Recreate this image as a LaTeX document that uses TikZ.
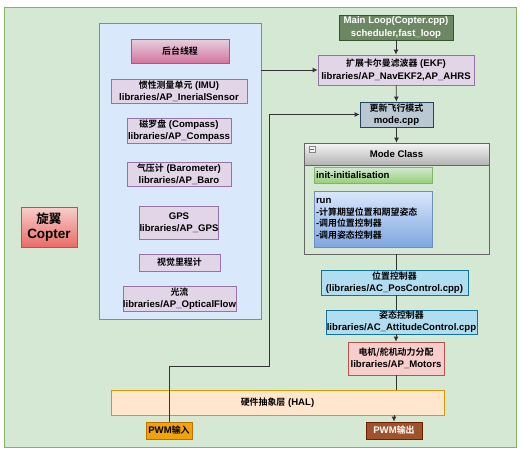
\documentclass[tikz,border=0pt]{standalone}
\usepackage{fontspec}
\setmainfont{Liberation Sans}
\newfontfamily\cjkfont{Noto Sans CJK SC}[Scale=0.93, BoldFont={Noto Sans CJK SC Bold}]
\newcommand{\zh}[1]{{\cjkfont #1}}
\usetikzlibrary{arrows.meta,calc}
\definecolor{bggreen}{HTML}{D5E8D4}
\definecolor{bgstroke}{HTML}{82B366}
\definecolor{panelfill}{HTML}{DAE8FC}
\definecolor{panelstroke}{HTML}{6C8EBF}
\definecolor{purpfill}{HTML}{E1D5E7}
\definecolor{purpstroke}{HTML}{9673A6}
\definecolor{pinktop}{HTML}{E6D0DE}
\definecolor{pinkbot}{HTML}{D5739D}
\definecolor{pinkstroke}{HTML}{996185}
\definecolor{redtop}{HTML}{F8CECC}
\definecolor{redbot}{HTML}{EA6B66}
\definecolor{redstroke}{HTML}{B85450}
\definecolor{darkgreen}{HTML}{6D8764}
\definecolor{darkgreenstroke}{HTML}{3A5431}
\definecolor{grayblue}{HTML}{BAC8D3}
\definecolor{graybluestroke}{HTML}{23445D}
\definecolor{hdrtop}{HTML}{F5F5F5}
\definecolor{hdrbot}{HTML}{B3B3B3}
\definecolor{hdrstroke}{HTML}{666666}
\definecolor{gtop}{HTML}{D5E8D4}
\definecolor{gbot}{HTML}{97D077}
\definecolor{btop}{HTML}{DAE8FC}
\definecolor{bbot}{HTML}{7EA6E0}
\definecolor{cyanfill}{HTML}{B1DDF0}
\definecolor{cyanstroke}{HTML}{10739E}
\definecolor{salmon}{HTML}{F8CECC}
\definecolor{halfill}{HTML}{FFE6CC}
\definecolor{halstroke}{HTML}{D79B00}
\definecolor{orangefill}{HTML}{F0A30A}
\definecolor{orangestroke}{HTML}{BD7000}
\definecolor{brownfill}{HTML}{A0522D}
\definecolor{brownstroke}{HTML}{6D1F00}
\definecolor{linecol}{HTML}{333333}
\begin{document}
\begin{tikzpicture}[x=1pt,y=-1pt,
  font=\fontsize{9.6}{12.2}\selectfont\bfseries,
  box/.style={draw, line width=0.8pt, inner sep=0pt, align=center, text=black},
  sensor/.style={box, fill=purpfill, draw=purpstroke},
  conn/.style={draw=linecol, line width=0.8pt},
  arr/.style={conn, -{Latex[length=5pt,width=5pt]}}
]
\useasboundingbox (0,0) rectangle (523,451);
\fill[white] (0,0) rectangle (523,451);
% outer background
\node[box, fill=bggreen, draw=bgstroke, line width=1pt, minimum width=512pt, minimum height=440pt] (outer) at (260,227) {};
% blue panel
\node[box, fill=panelfill, draw=panelstroke, minimum width=162pt, minimum height=296pt] (panel) at (180,171) {};
\node[box, draw=pinkstroke, top color=pinktop, bottom color=pinkbot, minimum width=98pt, minimum height=24pt] (bg) at (180,51) {\zh{后台线程}};
\node[sensor, minimum width=136pt, minimum height=24pt] (imu) at (179,91) {\zh{惯性测量单元} (IMU)\\libraries/AP\_InerialSensor};
\node[sensor, minimum width=104pt, minimum height=25pt] (compass) at (179,130.5) {\zh{磁罗盘} (Compass)\\libraries/AP\_Compass};
\node[sensor, minimum width=104pt, minimum height=24pt] (baro) at (179,174) {\zh{气压计} (Barometer)\\libraries/AP\_Baro};
\node[sensor, minimum width=76pt, minimum height=33pt] (gps) at (179,222.5) {GPS\\libraries/AP\_GPS};
\node[sensor, minimum width=81pt, minimum height=17pt] (vo) at (179.5,262.5) {\zh{视觉里程计}};
\node[sensor, minimum width=113pt, minimum height=25pt] (flow) at (179.5,298.5) {\zh{光流}\\libraries/AP\_OpticalFlow};
% copter
\node[box, draw=redstroke, top color=redtop, bottom color=redbot, minimum width=56pt, minimum height=40pt, font=\fontsize{13.5}{15}\selectfont\bfseries] (copter) at (49,227) {\zh{旋翼}\\Copter};
% right column
\node[box, fill=darkgreen, draw=darkgreenstroke, text=white, minimum width=114pt, minimum height=25pt] (main) at (396,27.5) {Main Loop(Copter.cpp)\\scheduler,fast\_loop};
\node[sensor, minimum width=156pt, minimum height=30pt] (ekf) at (396,70) {\zh{扩展卡尔曼滤波器} (EKF)\\libraries/AP\_NavEKF2,AP\_AHRS};
\node[box, fill=grayblue, draw=graybluestroke, minimum width=73pt, minimum height=25pt] (mode) at (396.5,114.5) {\zh{更新飞行模式}\\mode.cpp};
% mode class
\node[box, draw=hdrstroke, minimum width=185pt, minimum height=111pt] (mc) at (396.5,198.5) {};
\node[box, draw=hdrstroke, top color=hdrtop, bottom color=hdrbot, minimum width=185pt, minimum height=22pt, anchor=north] (mchead) at (mc.north) {Mode Class};
\node[draw=hdrstroke!80, fill=hdrtop, line width=0.5pt, minimum size=6pt, inner sep=0pt] (mcicon) at (312,149) {};
\draw[hdrstroke, line width=0.6pt] ($(mcicon.center)+(-2,0)$) -- ($(mcicon.center)+(2,0)$);
\node[box, draw=bgstroke, top color=gtop, bottom color=gbot, minimum width=118pt, minimum height=16pt, align=left, text width=114pt] (init) at (373,175) {init-initialisation};
\node[box, draw=panelstroke, top color=btop, bottom color=bbot, minimum width=118pt, minimum height=56pt, align=left, text width=114pt, font=\fontsize{9.6}{11.5}\selectfont\bfseries] (run) at (373,219) {run\\-\zh{计算期望位置和期望姿态}\\-\zh{调用位置控制器}\\-\zh{调用姿态控制器}};
\node[box, fill=cyanfill, draw=cyanstroke, minimum width=147pt, minimum height=25pt] (pos) at (394.5,282.5) {\zh{位置控制器}\\(libraries/AC\_PosControl.cpp)};
\node[box, fill=cyanfill, draw=cyanstroke, minimum width=151pt, minimum height=24pt] (att) at (401.5,322) {\zh{姿态控制器}\\libraries/AC\_AttitudeControl.cpp};
\node[box, fill=salmon, draw=redstroke, minimum width=96pt, minimum height=33pt] (motor) at (396,358.5) {\zh{电机/舵机动力分配}\\libraries/AP\_Motors};
% HAL and PWM
\node[box, fill=halfill, draw=halstroke, minimum width=333pt, minimum height=25pt] (hal) at (277.5,402.5) {\zh{硬件抽象层} (HAL)};
\node[box, fill=orangefill, draw=orangestroke, minimum width=46pt, minimum height=17pt] (pwmin) at (169,430.5) {PWM\zh{输入}};
\node[box, fill=brownfill, draw=brownstroke, text=white, minimum width=56pt, minimum height=17pt] (pwmout) at (394,430.5) {PWM\zh{输出}};
% connectors
\coordinate (turn) at (269,366);
\draw[arr] (main) -- (ekf);
\draw[arr] (panel.east |- ekf.west) -- (ekf.west);
\draw[arr] (ekf) -- (mode);
\draw[arr] (mode) -- (mchead);
\draw[conn] (mc.south) -- (mc.south |- pos.north);
\draw[conn] (pos.south -| mc.south) -- (mc.south |- att.north);
\draw[arr] (att.south -| motor.north) -- (motor.north);
\draw[conn] (motor.south) -- (motor.south |- hal.north);
\draw[arr] (pwmout.north |- hal.south) -- (pwmout.north);
\draw[arr] (pwmin.north) |- (turn) |- (mode.west);
\end{tikzpicture}
\end{document}
